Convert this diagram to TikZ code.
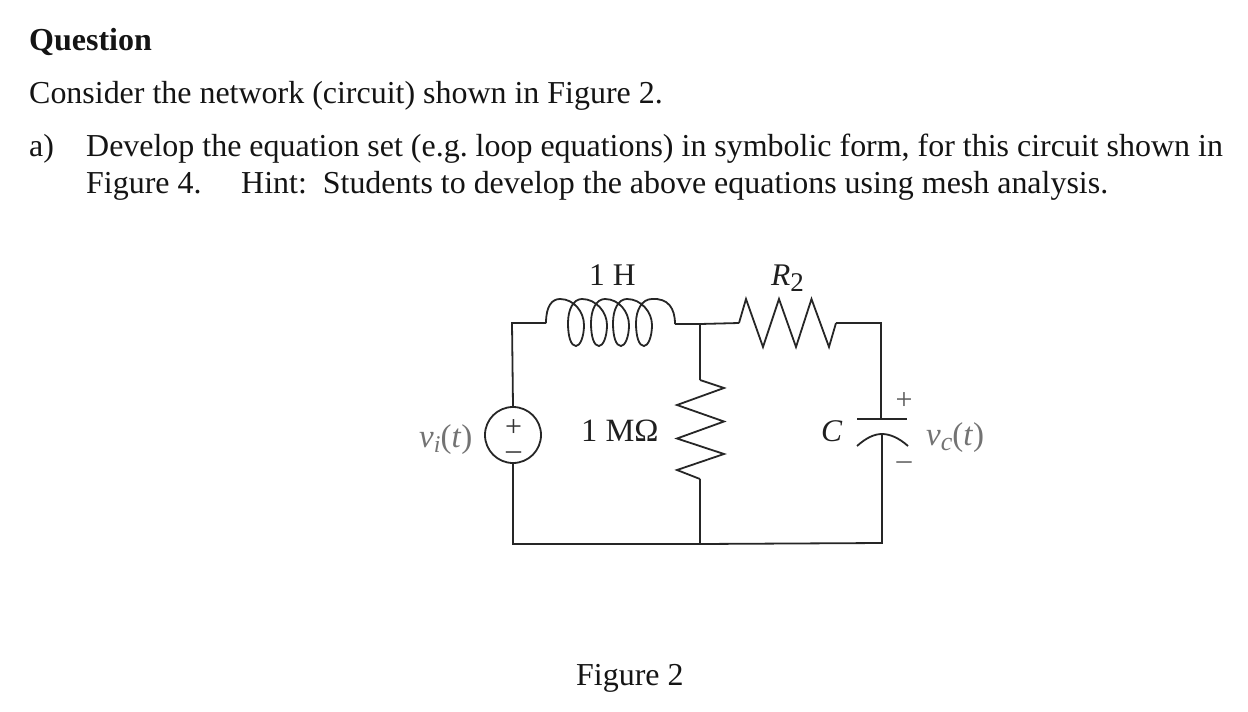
\documentclass[tikz,border=0pt]{standalone}
\usepackage{fontspec}
\setmainfont{Liberation Serif}
\tikzset{
 body/.style={anchor=base west,inner sep=0pt,font=\fontsize{31.95}{38}\selectfont\frenchspacing,text=black!92},
 cirlab/.style={anchor=base west,inner sep=0pt,font=\fontsize{31.5}{36}\selectfont,text=black!88},
 graylab/.style={anchor=base west,inner sep=0pt,font=\fontsize{33}{36}\selectfont,text=black!55},
 sign/.style={anchor=base,inner sep=0pt,font=\fontsize{30}{30}\selectfont},
 wire/.style={draw=black!85,line width=1.8pt,line join=miter},
}
\begin{document}
\begin{tikzpicture}[x=1pt,y=-1pt]
\useasboundingbox (0,0) rectangle (1248,712);
% text
\node[body,font=\fontsize{32}{38}\selectfont\bfseries] (q) at (29,50) {Question};
\node[body] (l1) at (29,103) {Consider the network (circuit) shown in Figure 2.};
\node[body] (a) at (29,156) {a)};
\node[body] (l2) at (86,156) {Develop the equation set (e.g. loop equations) in symbolic form, for this circuit shown in};
\node[body] (l3) at (86,193) {Figure 4.};
\node[body] (l4) at (241,193) {Hint:\hspace{16pt}Students to develop the above equations using mesh analysis.};
\node[body] (fig) at (576,685) {Figure 2};
% circuit points
\coordinate (tl) at (512,323);
\coordinate (l0) at (546,323);
\coordinate (l1e) at (675,324);
\coordinate (j) at (700,324);
\coordinate (r0) at (739,323);
\coordinate (r1) at (836,323);
\coordinate (tr) at (881,323);
\coordinate (cp) at (881,419);
\coordinate (cq) at (882,434);
\coordinate (br) at (882,543);
\coordinate (jb) at (700,544);
\coordinate (bl) at (513,544);
\coordinate (m0) at (700,380);
\coordinate (m1) at (700,479);
\node[circle,wire,fill=none,minimum size=56pt,inner sep=0pt] (src) at (513,435) {};
% wires
\draw[wire] (src.north) -- (tl) -- (l0);
\draw[wire] (l1e) -- (j) -- (r0);
\draw[wire] (r1) -- (tr) -- (cp);
\draw[wire] (cq) -- (br) -- (jb) -- (bl) -- (src.south);
\draw[wire] (j) -- (m0);
\draw[wire] (m1) -- (jb);
% inductor
\draw[wire] (l0) .. controls (546,306) and (552,299) .. (560,299)
 .. controls (574,299) and (584,312) .. (584,325) .. controls (584,337) and (580,346) .. (576,346)
 .. controls (571,346) and (568,337) .. (568,323) .. controls (568,310) and (573,299) .. (582,299)
 .. controls (596,299) and (607,312) .. (607,325) .. controls (607,337) and (603,346) .. (599,346)
 .. controls (594,346) and (591,337) .. (591,323) .. controls (591,310) and (596,299) .. (605,299)
 .. controls (619,299) and (629,312) .. (629,325) .. controls (629,337) and (625,346) .. (621,346)
 .. controls (616,346) and (613,337) .. (613,323) .. controls (613,310) and (618,299) .. (627,299)
 .. controls (641,299) and (652,312) .. (652,325) .. controls (652,337) and (648,346) .. (644,346)
 .. controls (639,346) and (636,337) .. (636,323) .. controls (636,310) and (642,299) .. (652,299)
 .. controls (668,298) and (675,308) .. (l1e);
% R2
\draw[wire] (r0) -- (746,299) -- (763,347) -- (779,299) -- (796,347) -- (811.5,299) -- (829,347) -- (r1);
% R1
\draw[wire] (m0) -- (724,388) -- (677,405) -- (724,421.5) -- (677,438.5) -- (724,454) -- (677,470) -- (m1);
% capacitor
\draw[wire] (857,419) -- (907,419);
\draw[wire] (857,446) .. controls (866,438) and (874,434) .. (cq) .. controls (890,434) and (899,438) .. (908,446);
% source signs (one stacked text)
\node[inner sep=0pt,align=center,text=black!80,font=\fontsize{30}{23}\selectfont] (sp) at (513.5,439.5) {+\\[0pt]–};
\node[sign,text=black!65] (cplus) at (904,409) {+};
\node[sign,text=black!65] (cminus) at (904,469) {–};
% labels
\node[cirlab] (lh) at (589,285) {1 H};
\node[cirlab] (lr2) at (771,285) {\textit{R}\raisebox{-6pt}{\fontsize{27}{30}\selectfont 2}};
\node[cirlab,font=\fontsize{32.5}{36}\selectfont] (lm) at (581,441) {1 MΩ};
\node[cirlab] (lc) at (821,441) {\textit{C}};
\node[graylab] (lvi) at (419,447) {\textit{v}\raisebox{-5pt}{\fontsize{24}{26}\selectfont\textit{i}}(\textit{t})};
\node[graylab] (lvc) at (926,445) {\textit{v}\raisebox{-5pt}{\fontsize{26}{26}\selectfont\textit{c}}(\textit{t})};
\end{tikzpicture}
\end{document}
